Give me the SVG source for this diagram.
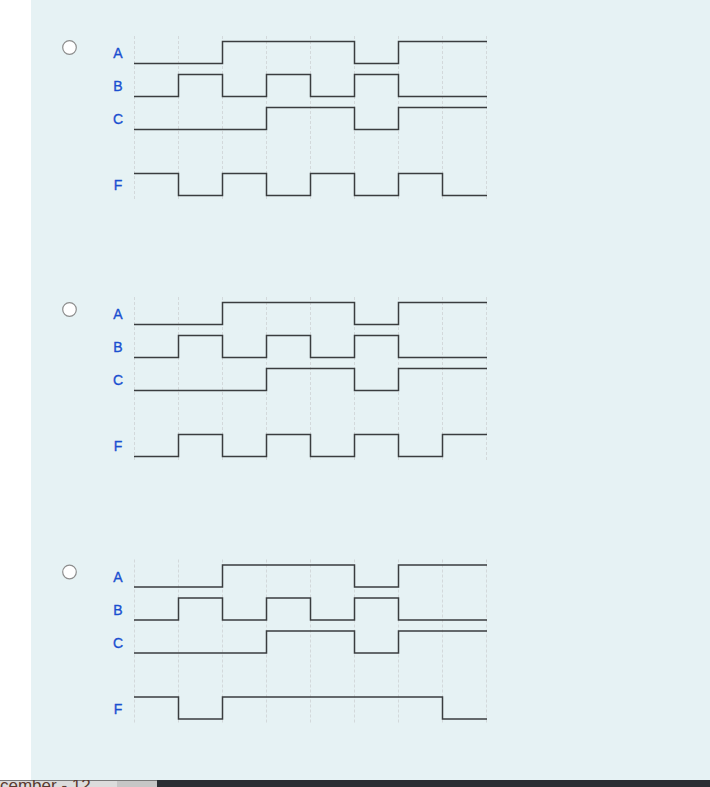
<svg xmlns="http://www.w3.org/2000/svg" width="710" height="787" viewBox="0 0 710 787">
<style>
.grid{fill:none;stroke:#d3d9db;stroke-width:1;stroke-dasharray:3 2}
.w{fill:none;stroke:#3a3d3f;stroke-width:1.5}
.l{font-family:"Liberation Sans",Arial,sans-serif;font-size:14px;fill:#1a4fd0;stroke:#1a4fd0;stroke-width:.35;text-anchor:middle}
.r{fill:#fff;stroke:#8d8d8d;stroke-width:1.2}
</style>
<defs>
<clipPath id="strip"><rect x="0" y="780" width="157" height="7"/></clipPath>
<path id="gr" class="grid" d="M134.5 36V200M178.5 36V200M222.500 36V200M266.500 36V200M310.500 36V200M354.500 36V200M398.500 36V200M442.500 36V200M486.500 36V200"/>
<g id="abc">
<path class="w" d="M134 63.500H222.500V41.500H354.500V63.500H398.500V41.500H487"/>
<path class="w" d="M134 96.500H178.500V74.500H222.500V96.500H266.500V74.500H310.500V96.500H354.500V74.500H398.500V96.500H487"/>
<path class="w" d="M134 129.500H266.500V107.500H354.500V129.500H398.500V107.500H487"/>
<text class="l" x="118" y="58">A</text>
<text class="l" x="118" y="91">B</text>
<text class="l" x="118" y="124">C</text>
<text class="l" x="118" y="190">F</text>
</g>
</defs>
<rect width="710" height="787" fill="#fff"/>
<rect x="31" y="0" width="679" height="780" fill="#e6f2f4"/>
<g id="option-1">
<circle class="r" cx="69.500" cy="47.500" r="6.800"/>
<use href="#gr"/><use href="#abc"/>
<path class="w" d="M134 173.500H178.500V195.500H222.500V173.500H266.500V195.500H310.500V173.500H354.500V195.500H398.500V173.500H442.500V195.500H487"/>
</g>
<g id="option-2" transform="translate(0 261)">
<circle class="r" cx="69.500" cy="48.500" r="6.800"/>
<use href="#gr"/><use href="#abc"/>
<path class="w" d="M134 195.500H178.500V173.500H222.500V195.500H266.500V173.500H310.500V195.500H354.500V173.500H398.500V195.500H442.500V173.500H487"/>
</g>
<g id="option-3" transform="translate(0 523.500)">
<circle class="r" cx="69.500" cy="48.500" r="6.800"/>
<use href="#gr"/><use href="#abc"/>
<path class="w" d="M134 173.500H178.500V195.500H222.500V173.500H442.500V195.500H487"/>
</g>
<g id="footer">
<rect x="0" y="780" width="117" height="7" fill="#dcdcdc"/>
<rect x="117" y="780" width="40" height="7" fill="#c6c6c6"/>
<rect x="157" y="780" width="553" height="7" fill="#2a2e33"/>
<rect x="0" y="780" width="157" height="1" fill="#777"/>
<text x="0" y="791" clip-path="url(#strip)" font-family="'Liberation Sans',Arial,sans-serif" font-size="17" fill="#5a3a30">cember - 12</text>
</g>
</svg>
